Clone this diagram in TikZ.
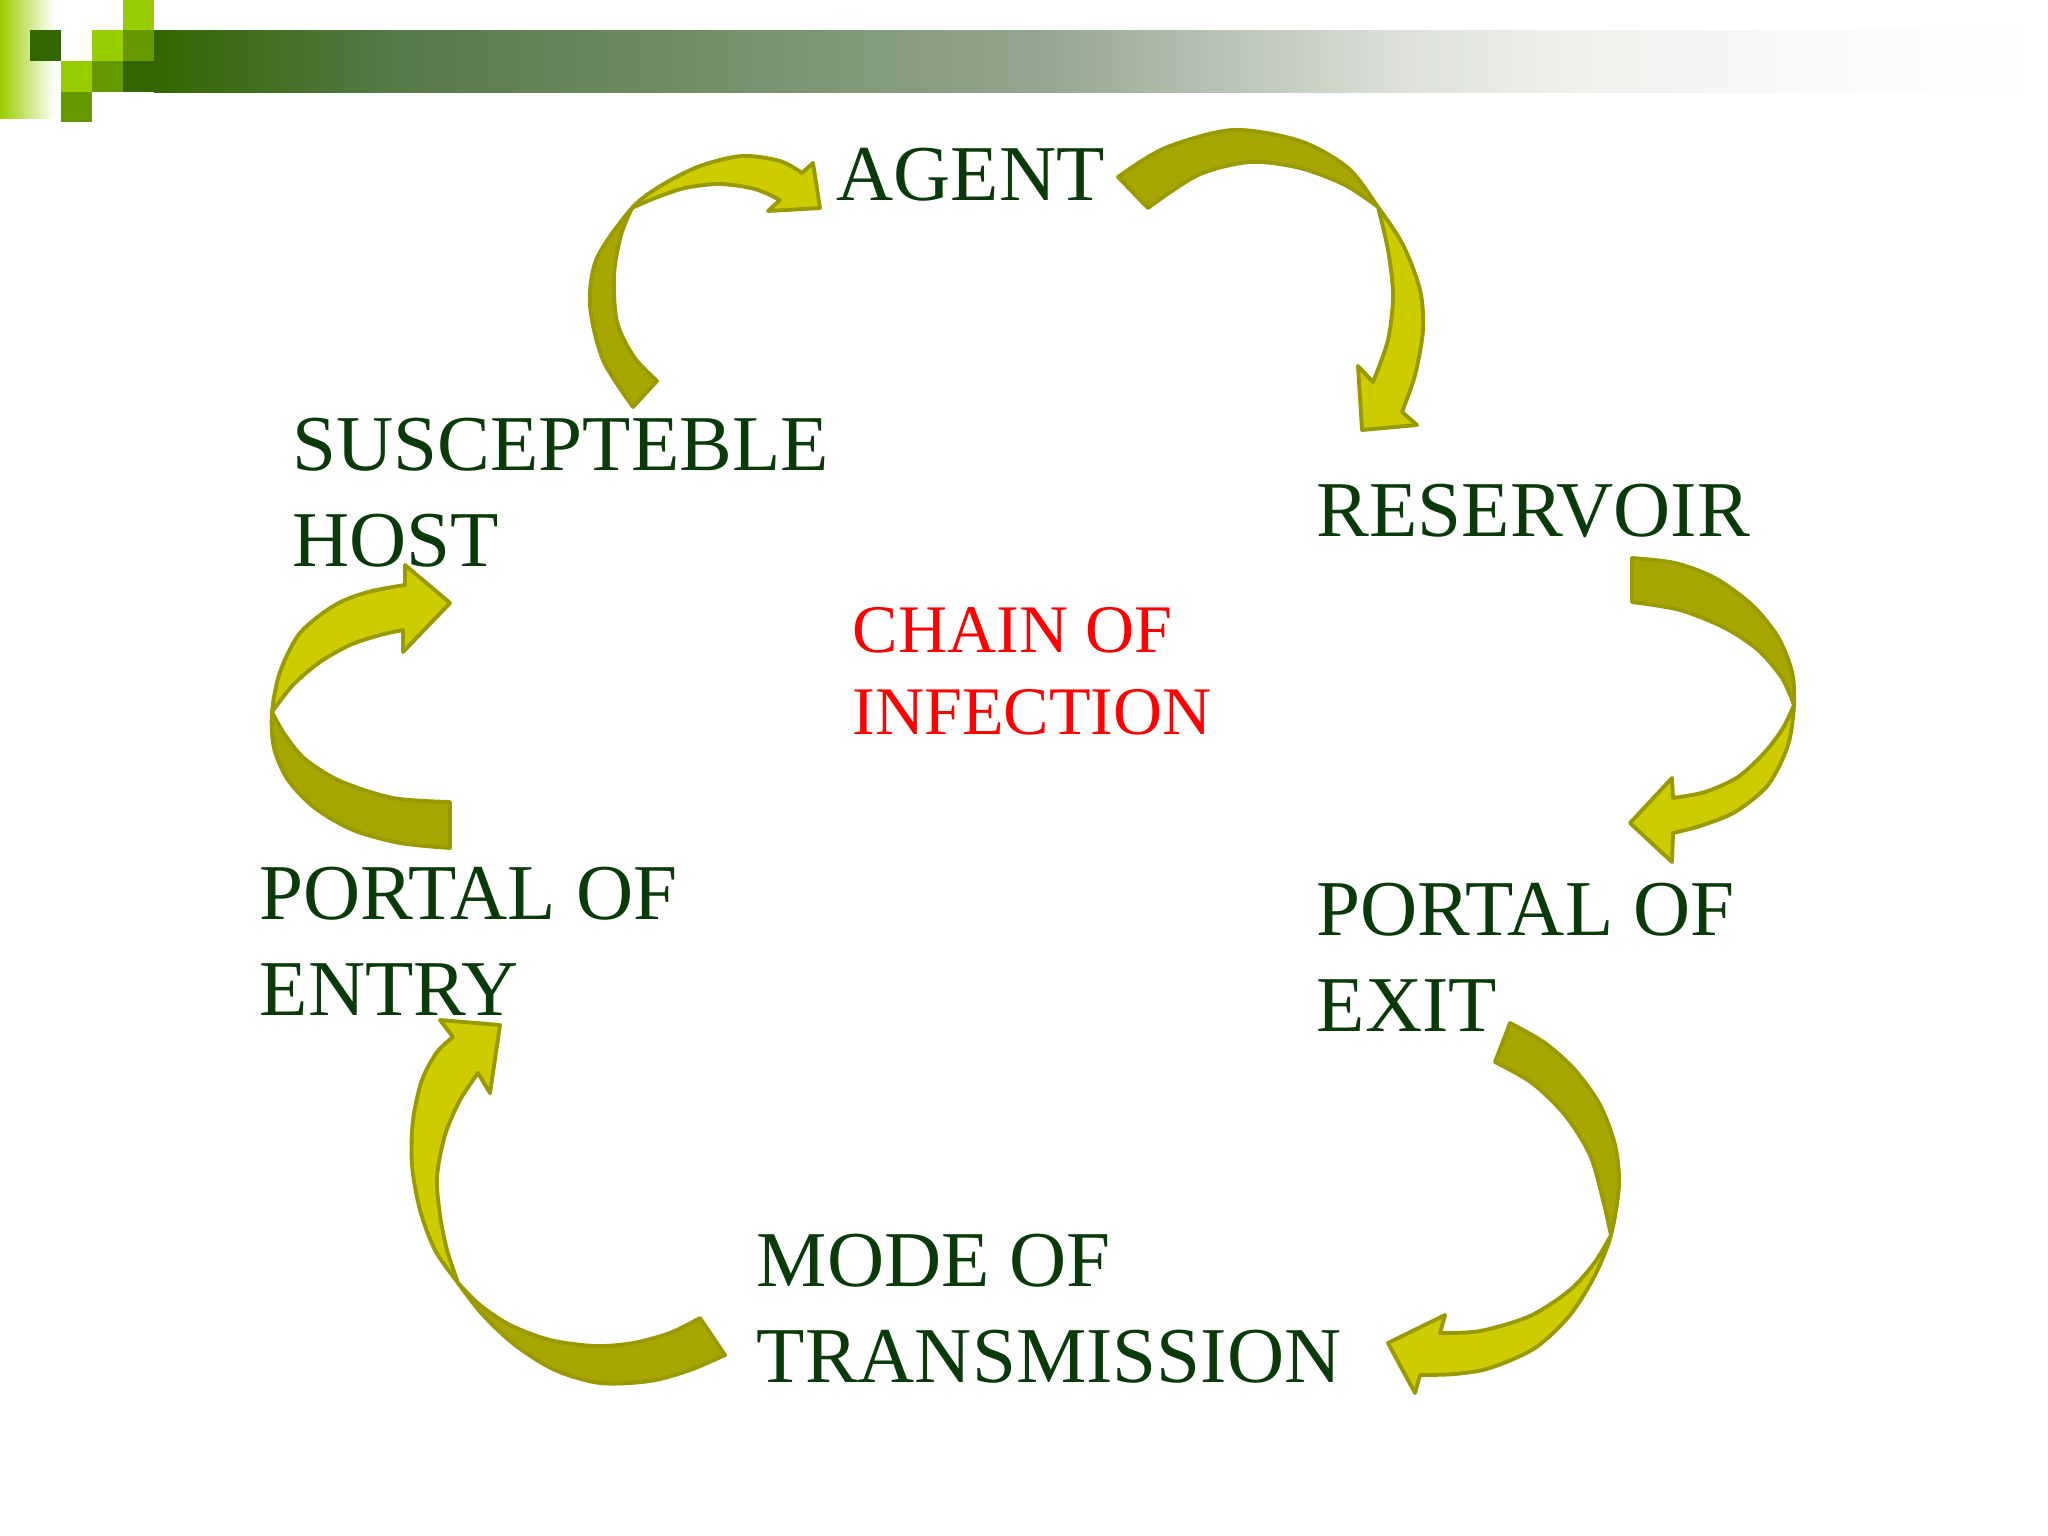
\documentclass[tikz,border=0pt]{standalone}
\usepackage{fontspec}
\setmainfont{Liberation Serif}
\definecolor{txtgreen}{HTML}{0A3A0A}
\definecolor{sqlight}{HTML}{99CC00}
\definecolor{sqmid}{HTML}{669900}
\definecolor{sqdark}{HTML}{336600}
\definecolor{olivedark}{HTML}{A6A600}
\definecolor{olivelight}{HTML}{CCCC00}
\definecolor{olivebord}{HTML}{999900}
\definecolor{barA}{HTML}{336600}
\definecolor{barB}{HTML}{577A4A}
\definecolor{barC}{HTML}{6E8A62}
\definecolor{barD}{HTML}{94A690}
\definecolor{barE}{HTML}{DDE1DA}
\definecolor{barF}{HTML}{F0F2EE}
\definecolor{barG}{HTML}{FCFCFC}
\pgfdeclarehorizontalshading{barshade}{100bp}{color(0bp)=(barA); color(25bp)=(barA); color(31.5bp)=(barB); color(38bp)=(barC); color(48.5bp)=(barD); color(58bp)=(barE); color(63bp)=(barF); color(71bp)=(barG); color(75bp)=(white); color(100bp)=(white)}
% arrow outlines: outer contour, head, front inner edge, back inner edge
\def\arrA{plot[smooth] coordinates {(633,407) (603,360) (590,305) (597,258) (632,208) (662,185) (700,166) (742,156) (780,161) (802,173)}
  -- (813,163) -- (820,208) -- (768,211) -- (780,200)
  -- plot[smooth] coordinates {(780,200) (755,189) (720,184) (685,188) (655,198) (632,208)}
  -- plot[smooth] coordinates {(632,208) (621,235) (614,275) (617,322) (634,357) (657,381)} -- cycle}
\def\arrB{plot[smooth] coordinates {(1118,177) (1165,148) (1233,130) (1300,141) (1348,168) (1378,207) (1403,245) (1420,290) (1423,330) (1415,375) (1402,412)}
  -- (1417,425) -- (1362,430) -- (1358,366) -- (1373,382)
  -- plot[smooth] coordinates {(1373,382) (1388,340) (1393,295) (1388,250) (1378,207)}
  -- plot[smooth] coordinates {(1378,207) (1345,185) (1300,168) (1250,162) (1198,175) (1148,208)} -- cycle}
\def\arrC{plot[smooth] coordinates {(1632,558) (1675,563) (1715,578) (1752,605) (1778,637) (1792,672) (1794,705) (1788,745) (1768,785) (1735,812) (1700,826) (1673,833)}
  -- (1672,862) -- (1630,823) -- (1672,778) -- (1673,798)
  -- plot[smooth] coordinates {(1673,798) (1705,792) (1738,777) (1765,752) (1783,728) (1794,705)}
  -- plot[smooth] coordinates {(1794,705) (1782,678) (1758,650) (1725,628) (1680,610) (1632,602)} -- cycle}
\def\arrD{plot[smooth] coordinates {(1510,1023) (1545,1043) (1575,1070) (1600,1105) (1615,1145) (1619,1185) (1611,1235) (1595,1275) (1570,1315) (1535,1348) (1490,1368) (1455,1374) (1420,1375)}
  -- (1415,1393) -- (1388,1343) -- (1445,1315) -- (1440,1333)
  -- plot[smooth] coordinates {(1440,1333) (1480,1331) (1530,1316) (1570,1290) (1595,1262) (1611,1235)}
  -- plot[smooth] coordinates {(1611,1235) (1603,1200) (1590,1155) (1565,1115) (1532,1083) (1495,1062)} -- cycle}
\def\arrE{plot[smooth] coordinates {(725,1355) (690,1370) (650,1381) (600,1383) (555,1370) (515,1345) (483,1315) (458,1283) (435,1250) (420,1210) (412,1165) (413,1120) (422,1080) (437,1052) (453,1037)}
  -- (440,1020) -- (500,1025) -- (490,1093) -- (478,1073)
  -- plot[smooth] coordinates {(478,1073) (460,1100) (445,1135) (437,1177) (440,1215) (447,1250) (458,1283)}
  -- plot[smooth] coordinates {(458,1283) (480,1305) (510,1325) (550,1340) (595,1346) (633,1343) (670,1333) (700,1318)} -- cycle}
\def\arrF{plot[smooth] coordinates {(450,848) (400,843) (353,830) (315,808) (288,780) (274,748) (272,712) (280,672) (300,633) (335,605) (368,592) (405,585)}
  -- (405,565) -- (450,603) -- (403,652) -- (403,630)
  -- plot[smooth] coordinates {(403,630) (380,635) (350,645) (320,662) (293,685) (272,712)}
  -- plot[smooth] coordinates {(272,712) (285,735) (305,759) (340,781) (393,798) (450,802)} -- cycle}
\begin{document}
\begin{tikzpicture}[x=0.01cm,y=-0.01cm,
  backfill/.style={fill=olivedark, draw=none},
  frontfill/.style={fill=olivelight, draw=none},
  outline/.style={draw=olivebord, line width=1.1pt, line join=round},
  lbl/.style={anchor=base west, inner sep=0pt, text=txtgreen, font=\fontsize{22.5}{27}\selectfont},
  redlbl/.style={anchor=base west, inner sep=0pt, text=red, font=\fontsize{19.35}{23}\selectfont}]
\useasboundingbox (0,0) rectangle (2048,1536);
\fill[white] (0,0) rectangle (2048,1536);
% header decoration
\shade[left color=sqlight, right color=white, draw=none] (0,0) rectangle (55,118);
\shade[shading=barshade, draw=none] (154,30) rectangle (2048,92);
\fill[sqdark] (123,61) rectangle (154,92);
\fill[sqdark] (30,30) rectangle (61,61);
\fill[sqlight] (123,0) rectangle (154,30);
\fill[sqlight] (92,30) rectangle (123,61);
\fill[sqmid] (123,30) rectangle (154,61);
\fill[sqlight] (61,61) rectangle (92,92);
\fill[sqmid] (92,61) rectangle (123,92);
\fill[sqmid] (61,92) rectangle (92,122);

% Arrow A: susceptible host -> agent
\fill[backfill] \arrA;
\begin{scope}\clip (414,9) -- (862,409) -- (1062,185) -- (614,-215) -- cycle; \fill[frontfill] \arrA; \end{scope}
\draw[outline] \arrA;
% Arrow B: agent -> reservoir
\fill[backfill] \arrB;
\begin{scope}\clip (1166,419) -- (1590,-5) -- (1802,207) -- (1378,631) -- cycle; \fill[frontfill] \arrB; \end{scope}
\draw[outline] \arrB;
% Arrow C: reservoir -> portal of exit
\fill[backfill] \arrC;
\begin{scope}\clip (1494,705) -- (2094,705) -- (2094,1005) -- (1494,1005) -- cycle; \fill[frontfill] \arrC; \end{scope}
\draw[outline] \arrC;
% Arrow D: portal of exit -> mode of transmission
\fill[backfill] \arrD;
\begin{scope}\clip (1320,1307) -- (1902,1163) -- (1974,1454) -- (1392,1598) -- cycle; \fill[frontfill] \arrD; \end{scope}
\draw[outline] \arrD;
% Arrow E: mode of transmission -> portal of entry
\fill[backfill] \arrE;
\begin{scope}\clip (691,1094) -- (225,1472) -- (36,1239) -- (502,861) -- cycle; \fill[frontfill] \arrE; \end{scope}
\draw[outline] \arrE;
% Arrow F: portal of entry -> susceptible host
\fill[backfill] \arrF;
\begin{scope}\clip (172,712) -- (572,712) -- (572,412) -- (172,412) -- cycle; \fill[frontfill] \arrF; \end{scope}
\draw[outline] \arrF;

% labels
\node[lbl] (agent) at (836,200) {AGENT};
\node[lbl] (hostA) at (292,470) {SUSCEPTEBLE};
\node[lbl] (hostB) at (292,566) {HOST};
\node[lbl] (reservoir) at (1316,536) {RESERVOIR};
\node[redlbl] (chainA) at (852,652) {CHAIN OF};
\node[redlbl] (chainB) at (852,734) {INFECTION};
\node[lbl] (entryA) at (259,919) {PORTAL OF};
\node[lbl] (entryB) at (259,1015) {ENTRY};
\node[lbl] (exitA) at (1316,935) {PORTAL OF};
\node[lbl] (exitB) at (1316,1031) {EXIT};
\node[lbl] (modeA) at (756,1286) {MODE OF};
\node[lbl] (modeB) at (756,1382) {TRANSMISSION};
\end{tikzpicture}
\end{document}
